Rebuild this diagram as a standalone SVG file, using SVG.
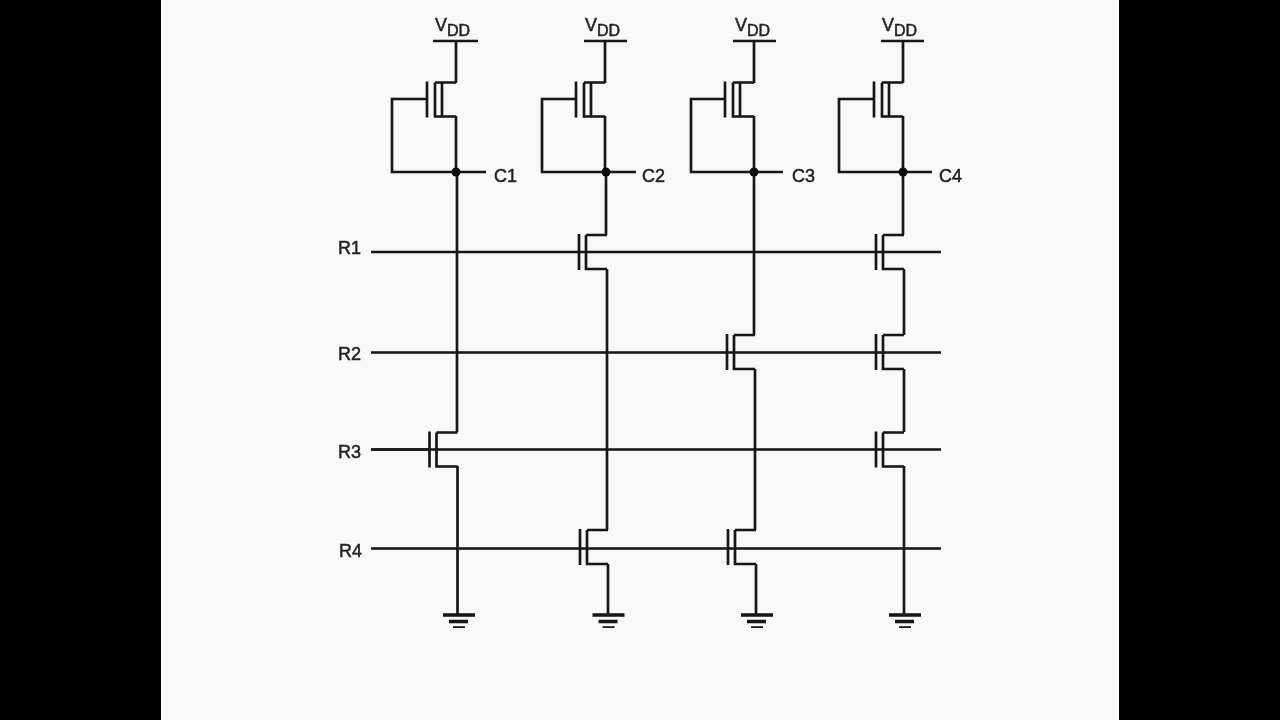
<svg xmlns="http://www.w3.org/2000/svg" width="1280" height="720" viewBox="0 0 1280 720">
<style>
.w{fill:none;stroke:#161616;stroke-width:2.7;stroke-linejoin:miter}
.r{fill:none;stroke:#161616;stroke-width:2.6}
.g{fill:none;stroke:#161616;stroke-width:3.5}
.t{font-family:"Liberation Sans",Arial,sans-serif;font-size:18px;fill:#222;stroke:#222;stroke-width:.5}
.s{font-size:16px}
.d{fill:#111}
</style>
<defs>
<filter id="b" x="0" y="0" width="1" height="1"><feGaussianBlur stdDeviation="0.5"/></filter>
<g id="fet"><path class="w" d="M-28,-18V18M-21,-17H0M-21,-17V17H0"/></g>
<g id="fetTop"><path class="w" d="M-29,-18V18M-21,-17H0M-21,-17V17H0M-14,-17V17"/></g>
<g id="gnd"><path class="g" d="M-16,0H16M-10,6.500H9M-6,13H6"/></g>
</defs>
<rect width="1280" height="720" fill="#000"/>
<rect x="161" width="958" height="720" fill="#f8f8f8"/>
<g filter="url(#b)">
<g id="connectors">
<path class="r" d="M371,252H941M371,352.500H941M371,449.500H941M371,548.500H941"/>
<path class="r" d="M371,449.500H430"/>
<path class="w" d="M456,41V83M456,116V172L457,172V432M457.500,466V615"/>
<path class="w" d="M605,41V83M605,116V172L606,172V235M607,269V530M608,564V615"/>
<path class="w" d="M754,41V83M754,116V172V335M755,369V530M756,564V615"/>
<path class="w" d="M903,41V83M903,116V172V235M904,269V335M904,369V432M904,466V615"/>
<path class="w" d="M427,99H392V172H486"/>
<path class="w" d="M576,99H542V172H636"/>
<path class="w" d="M725,99H691V172H783"/>
<path class="w" d="M874,99H839V172H932"/>
<path class="w" d="M433,41H478M584,41H627M733,41H776M881,41H924"/>
</g>
<g id="vdd1"><text class="t" x="435" y="31">V<tspan class="s" dy="5">DD</tspan></text></g>
<g id="vdd2"><text class="t" x="585" y="31">V<tspan class="s" dy="5">DD</tspan></text></g>
<g id="vdd3"><text class="t" x="735" y="31">V<tspan class="s" dy="5">DD</tspan></text></g>
<g id="vdd4"><text class="t" x="882" y="31">V<tspan class="s" dy="5">DD</tspan></text></g>
<g id="load1"><use href="#fetTop" x="456" y="99.500"/></g>
<g id="load2"><use href="#fetTop" x="605" y="99.500"/></g>
<g id="load3"><use href="#fetTop" x="754" y="99.500"/></g>
<g id="load4"><use href="#fetTop" x="903" y="99.500"/></g>
<g id="node1"><circle class="d" cx="456" cy="172" r="4.500"/><text class="t" x="494" y="182">C1</text></g>
<g id="node2"><circle class="d" cx="606" cy="172" r="4.500"/><text class="t" x="642" y="182">C2</text></g>
<g id="node3"><circle class="d" cx="754" cy="172" r="4.500"/><text class="t" x="792" y="182">C3</text></g>
<g id="node4"><circle class="d" cx="903" cy="172" r="4.500"/><text class="t" x="939" y="182">C4</text></g>
<g id="row1"><text class="t" x="338" y="254">R1</text></g>
<g id="row2"><text class="t" x="338" y="360">R2</text></g>
<g id="row3"><text class="t" x="338" y="458">R3</text></g>
<g id="row4"><text class="t" x="339" y="557">R4</text></g>
<g id="m12"><use href="#fet" x="607" y="252"/></g>
<g id="m14"><use href="#fet" x="904" y="252"/></g>
<g id="m23"><use href="#fet" x="755" y="352"/></g>
<g id="m24"><use href="#fet" x="904" y="352"/></g>
<g id="m31"><use href="#fet" x="457.500" y="449.500"/></g>
<g id="m34"><use href="#fet" x="904" y="449.500"/></g>
<g id="m42"><use href="#fet" x="608" y="547"/></g>
<g id="m43"><use href="#fet" x="756" y="547"/></g>
<g id="gnd1"><use href="#gnd" x="459" y="615"/></g>
<g id="gnd2"><use href="#gnd" x="608.500" y="615"/></g>
<g id="gnd3"><use href="#gnd" x="757" y="615"/></g>
<g id="gnd4"><use href="#gnd" x="905" y="615"/></g>
</g>
</svg>
